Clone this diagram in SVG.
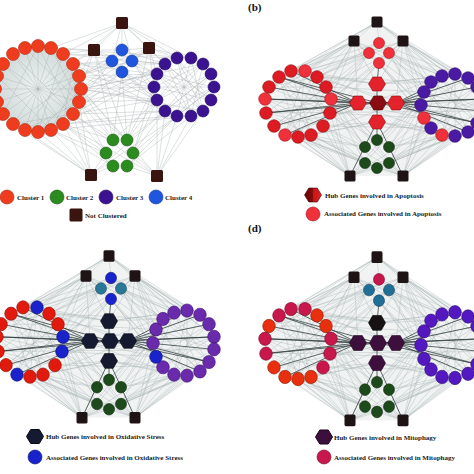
<svg xmlns="http://www.w3.org/2000/svg" width="474" height="474" viewBox="0 0 474 474">
<style>
.e{stroke:#a9b5b5;stroke-width:.5;fill:none;opacity:.8}
.ed{stroke:#2a3636;stroke-width:.8;fill:none;opacity:.9}
.hz{fill:#dfe5e5;opacity:.45}
circle,use.h{stroke-width:.6}
.a1{fill:#f03c1e;stroke:#a82810}.a2{fill:#2a8c1e;stroke:#175512}.a3{fill:#3b128f;stroke:#200860}.a4{fill:#1f56dd;stroke:#10369a}
.sqa{fill:#3a140e}.sq{fill:#1e1315}
.rd{fill:#dc1c22;stroke:#8e0e12}.rb{fill:#f0303a;stroke:#a01820}.hr{fill:#e3222b;stroke:#8e0e12}.hc{fill:#8a0c12;stroke:#4a0608}
.gr{fill:#1d4a1b;stroke:#0e2a0d}.pu{fill:#4b1aa5;stroke:#2c0c6a}
.bl{fill:#1a22cc;stroke:#0c1070}.tl{fill:#2a7898;stroke:#164a60}.nv{fill:#151a30;stroke:#05070f}.rc{fill:#e21a0e;stroke:#8e0e06}.pc{fill:#6a2aac;stroke:#3e1470}
.cr{fill:#c8174b;stroke:#7a0a2a}.td{fill:#1f6f96;stroke:#10405a}.bk{fill:#161214;stroke:#000}.dp{fill:#3d0f3d;stroke:#1e061e}.ro{fill:#e8300e;stroke:#8e1c06}.pd{fill:#5418c0;stroke:#300c78}
text{font-family:"Liberation Serif","Times New Roman",serif;font-weight:bold;fill:#222;font-size:7px}
.pl{font-size:11px;fill:#111}
</style>
<defs>
<polygon id="hx" points="-8.5,0 -4.25,-7 4.25,-7 8.5,0 4.25,7 -4.25,7"/>
<polygon id="hxl" points="-8.5,0 -4.25,-7 4.25,-7 8.5,0 4.25,7 -4.25,7"/>
<linearGradient id="gHub" x1="0" x2="1" y1="0" y2="0">
<stop offset="0" stop-color="#5a0606"/><stop offset=".5" stop-color="#8a0a0a"/><stop offset=".5" stop-color="#c41616"/><stop offset="1" stop-color="#e02020"/>
</linearGradient>
<radialGradient id="gMesh"><stop offset="0" stop-color="#eef2f2"/><stop offset="1" stop-color="#d3dbdb"/></radialGradient>
<g id="netEdges">
<path class="hz" d="M377 22L403 41L455 70L482 105L455 140L403 176L350 176L298 140L265 105L298 68L354 41Z"/>
<path class="e" d="M377 22L354 41M377 22L403 41M377 22L379 43M377 22L291 71M377 22L305 71M377 22L442 76M377 22L455 74M377 22L269 87M377 22L482 99M377 22L279 77M377 22L468 78
M354 41L279 77M354 41L291 71M354 41L305 71M354 41L317 77M354 41L326 87M354 41L369 53M354 41L379 63M354 41L358 103M354 41L265 99M354 41L431 82M354 41L442 76M354 41L269 87M354 41L331 99M354 41L377 84
M403 41L455 74M403 41L442 76M403 41L431 82M403 41L424 92M403 41L389 53M403 41L379 63M403 41L396 103M403 41L317 77M403 41L305 71M403 41L468 78M403 41L477 87M403 41L421 105M403 41L482 99M403 41L377 84
M350 176L298 137M350 176L311 135M350 176L323 126M350 176L285 135M350 176L274 126M350 176L266 113M350 176L365 163M350 176L365 147M350 176L330 113M350 176L442 135M350 176L431 128M350 176L331 99M350 176L377 168M350 176L455 136M350 176L265 99
M403 176L442 135M403 176L455 136M403 176L431 128M403 176L424 118M403 176L468 132M403 176L389 163M403 176L389 147M403 176L311 135M403 176L323 126M403 176L477 123M403 176L482 111M403 176L298 137M403 176L377 168M403 176L421 105M403 176L330 113
M369 53L326 87M369 53L317 77M369 53L331 99M369 53L305 71M369 53L330 113M369 53L269 87M369 53L424 92
M389 53L431 82M389 53L424 92M389 53L421 105M389 53L442 76M389 53L424 118M389 53L477 87M389 53L326 87
M379 63L330 113M379 63L424 118M379 63L331 99M379 63L421 105M379 63L323 126M379 63L431 128
M379 43L317 77M379 43L431 82M379 43L291 71M379 43L455 74
M365 147L331 99M365 147L330 113M365 147L323 126M365 147L311 135M365 147L298 137M365 147L326 87M365 147L421 105
M389 147L421 105M389 147L424 118M389 147L431 128M389 147L442 135M389 147L424 92M389 147L330 113M389 147L455 136
M365 163L285 135M365 163L274 126M365 163L323 126M365 163L311 135M365 163L331 99
M389 163L455 136M389 163L468 132M389 163L431 128M389 163L442 135M389 163L421 105
M377 140L326 87M377 140L431 82M377 140L317 77M377 140L442 76
M377 168L266 113M377 168L482 111M377 168L298 137M377 168L455 136
M377 84L305 71M377 84L317 77M377 84L442 76M377 84L431 82M377 84L291 71M377 84L455 74
M377 122L311 135M377 122L323 126M377 122L442 135M377 122L431 128M377 122L298 137M377 122L455 136
M331 99L421 105M326 87L424 92M330 113L424 118M317 77L431 82M323 126L431 128M266 113L482 111M265 99L421 105M269 87L424 118M279 77L442 135M285 135L442 76M311 135L468 78M305 71L468 132M291 71L477 123M274 126L477 87
M269 87L330 113M279 77L323 126M291 71L311 135M305 71L298 137M317 77L285 135M326 87L274 126M331 99L266 113M330 113L265 99M265 99L331 99M269 87L317 77M266 113L323 126M279 77L311 135M291 71L330 113M274 126L326 87M298 137L279 77M285 135L305 71M269 87L326 87M265 99L323 126M266 113L317 77M274 126L331 99M279 77L330 113
M421 105L482 99M424 92L482 111M431 82L477 123M442 76L468 132M455 74L455 136M468 78L442 135M477 87L431 128M482 99L424 118M421 105L468 78M424 118L477 87M431 128L482 99M442 135L455 74M424 92L468 132M431 82L482 111M442 76L477 123M421 105L455 136
M354 41L298 137M403 41L455 136M350 176L305 71M403 176L442 76M354 41L421 105M403 41L331 99M350 176L424 92M403 176L326 87M369 53L285 135M389 53L468 132M365 163L442 76M389 163L317 77"/>
<path class="ed" d="M358 103L269 87M358 103L265 99M358 103L266 113M358 103L274 126M358 103L279 77M358 103L291 71M358 103L285 135
M378 103L265 99M378 103L266 113M378 103L279 77
M396 103L482 99M396 103L482 111M396 103L477 87M396 103L477 123M396 103L468 78M396 103L468 132M396 103L455 74
M378 103L482 99M378 103L477 123
M377 122L350 176M377 122L403 176M377 84L379 63M358 103L396 103M377 84L377 122M377 122L377 140"/>
</g>
</defs>
<rect width="474" height="474" fill="#fff"/>

<g id="connectors">
<circle cx="38" cy="89" r="40" fill="url(#gMesh)"/>
<path class="e" d="M122 23L94 50M122 23L149 48M122 23L122 50M122 23L63 54M122 23L73 64M122 23L177 58M122 23L191 58M122 23L51 48M122 23L165 64M122 23L112 61M122 23L132 61
M94 50L63 54M94 50L73 64M94 50L79 76M94 50L112 61M94 50L122 50M94 50L51 48M94 50L81 89M94 50L113 140M94 50L157 74M94 50L127 140
M149 48L177 58M149 48L165 64M149 48L157 74M149 48L154 87M149 48L132 61M149 48L122 50M149 48L122 72M149 48L191 58M149 48L79 76M149 48L127 140M149 48L81 89
M91 175L63 124M91 175L51 130M91 175L38 132M91 175L73 114M91 175L106 153M91 175L113 166M91 175L25 130M91 175L177 116M91 175L79 102M91 175L165 111M91 175L12 124
M157 176L177 116M157 176L165 111M157 176L191 116M157 176L127 166M157 176L133 153M157 176L63 124M157 176L73 114M157 176L157 100M157 176L203 111M157 176L81 89
M112 61L73 64M112 61L79 76M112 61L81 89M112 61L79 102M112 61L157 100M132 61L157 74M132 61L154 87M132 61L165 64M132 61L157 100M132 61L79 76M122 72L79 102M122 72L73 114M122 72L157 100M122 72L165 111M122 72L113 140M122 72L127 140M122 72L81 89M122 72L154 87M122 50L79 76M122 50L165 64
M113 140L81 89M113 140L79 102M113 140L73 114M113 140L63 124M113 140L157 100M127 140L157 100M127 140L165 111M127 140L154 87M127 140L79 102M127 140L81 89M106 153L63 124M106 153L73 114M106 153L51 130M106 153L79 102M133 153L165 111M133 153L177 116M133 153L157 100M133 153L154 87M113 166L63 124M113 166L51 130M127 166L177 116M127 166L191 116
M81 89L154 87M79 76L157 74M79 102L157 100M73 64L165 64M73 114L165 111M63 54L177 58M63 124L177 116M81 89L157 74M81 89L157 100M79 76L154 87M79 102L154 87M73 64L157 74M73 114L157 100M63 54L165 64M63 124L165 111M51 48L191 58M51 130L191 116M79 76L165 111M79 102L165 64M73 64L177 116M73 114L177 58M81 89L203 64M81 89L203 111M63 54L157 100M63 124L157 74
M191 58L177 116M203 64L165 111M211 74L157 100M214 87L154 87M211 100L157 74M203 111L165 64M191 116L177 58M191 58L157 100M203 64L154 87M211 74L165 111M214 87L177 116M211 100L165 64M203 111L177 58M191 116L157 74M177 116L214 87M165 111L211 74M157 100L203 64M154 87L211 100M157 74L203 111M165 64L191 116M177 58L211 100M191 58L203 111M203 64L191 116M211 74L177 116M214 87L165 111M157 74L214 87M165 64L211 100
M38 46L38 132M51 48L25 130M63 54L13 124M73 64L3 114M79 76L-3 102M81 89L-5 89M79 102L-3 76M73 114L3 64M63 124L13 54M51 130L25 48M38 46L73 114M51 48L79 102M63 54L81 89M73 64L63 124M79 76L51 130M81 89L38 132M79 102L25 130M73 114L13 124M38 46L3 114M25 48L79 102M13 54L73 114M3 64L63 124M-3 76L51 130M38 132L63 54M25 130L73 64M13 124L79 76"/>
<use href="#netEdges"/>
<use href="#netEdges" transform="translate(110 341) scale(1 1.05) translate(-378 -103)"/>
<use href="#netEdges" transform="translate(378 343) scale(1 1.06) translate(-378 -103)"/>
</g>

<g id="panel-a">
<g id="a-c1-0"><circle class="a1" cx="38" cy="46" r="6.5"/></g>
<g id="a-c1-1"><circle class="a1" cx="51" cy="48" r="6.5"/></g>
<g id="a-c1-2"><circle class="a1" cx="63" cy="54" r="6.5"/></g>
<g id="a-c1-3"><circle class="a1" cx="73" cy="64" r="6.5"/></g>
<g id="a-c1-4"><circle class="a1" cx="79" cy="76" r="6.5"/></g>
<g id="a-c1-5"><circle class="a1" cx="81" cy="89" r="6.5"/></g>
<g id="a-c1-6"><circle class="a1" cx="79" cy="102" r="6.5"/></g>
<g id="a-c1-7"><circle class="a1" cx="73" cy="114" r="6.5"/></g>
<g id="a-c1-8"><circle class="a1" cx="63" cy="124" r="6.5"/></g>
<g id="a-c1-9"><circle class="a1" cx="51" cy="130" r="6.5"/></g>
<g id="a-c1-10"><circle class="a1" cx="38" cy="132" r="6.5"/></g>
<g id="a-c1-11"><circle class="a1" cx="25" cy="130" r="6.5"/></g>
<g id="a-c1-12"><circle class="a1" cx="13" cy="124" r="6.5"/></g>
<g id="a-c1-13"><circle class="a1" cx="3" cy="114" r="6.5"/></g>
<g id="a-c1-14"><circle class="a1" cx="-3" cy="102" r="6.5"/></g>
<g id="a-c1-15"><circle class="a1" cx="-5" cy="89" r="6.5"/></g>
<g id="a-c1-16"><circle class="a1" cx="-3" cy="76" r="6.5"/></g>
<g id="a-c1-17"><circle class="a1" cx="3" cy="64" r="6.5"/></g>
<g id="a-c1-18"><circle class="a1" cx="13" cy="54" r="6.5"/></g>
<g id="a-c1-19"><circle class="a1" cx="25" cy="48" r="6.5"/></g>
<g id="a-c3-0"><circle class="a3" cx="191" cy="58" r="6"/></g>
<g id="a-c3-1"><circle class="a3" cx="203" cy="64" r="6"/></g>
<g id="a-c3-2"><circle class="a3" cx="211" cy="74" r="6"/></g>
<g id="a-c3-3"><circle class="a3" cx="214" cy="87" r="6"/></g>
<g id="a-c3-4"><circle class="a3" cx="211" cy="100" r="6"/></g>
<g id="a-c3-5"><circle class="a3" cx="203" cy="111" r="6"/></g>
<g id="a-c3-6"><circle class="a3" cx="191" cy="116" r="6"/></g>
<g id="a-c3-7"><circle class="a3" cx="177" cy="116" r="6"/></g>
<g id="a-c3-8"><circle class="a3" cx="165" cy="111" r="6"/></g>
<g id="a-c3-9"><circle class="a3" cx="157" cy="100" r="6"/></g>
<g id="a-c3-10"><circle class="a3" cx="154" cy="87" r="6"/></g>
<g id="a-c3-11"><circle class="a3" cx="157" cy="74" r="6"/></g>
<g id="a-c3-12"><circle class="a3" cx="165" cy="64" r="6"/></g>
<g id="a-c3-13"><circle class="a3" cx="177" cy="58" r="6"/></g>
<g id="a-c4-0"><circle class="a4" cx="122" cy="50" r="6"/></g>
<g id="a-c4-1"><circle class="a4" cx="112" cy="61" r="6"/></g>
<g id="a-c4-2"><circle class="a4" cx="132" cy="61" r="6"/></g>
<g id="a-c4-3"><circle class="a4" cx="122" cy="72" r="6"/></g>
<g id="a-c2-0"><circle class="a2" cx="113" cy="140" r="6"/></g>
<g id="a-c2-1"><circle class="a2" cx="127" cy="140" r="6"/></g>
<g id="a-c2-2"><circle class="a2" cx="133" cy="153" r="6"/></g>
<g id="a-c2-3"><circle class="a2" cx="127" cy="166" r="6"/></g>
<g id="a-c2-4"><circle class="a2" cx="113" cy="166" r="6"/></g>
<g id="a-c2-5"><circle class="a2" cx="106" cy="153" r="6"/></g>
<g id="a-sq-0"><rect class="sqa" x="116" y="17" width="12" height="12" rx="1.5"/></g>
<g id="a-sq-1"><rect class="sqa" x="88" y="44" width="12" height="12" rx="1.5"/></g>
<g id="a-sq-2"><rect class="sqa" x="143" y="42" width="12" height="12" rx="1.5"/></g>
<g id="a-sq-3"><rect class="sqa" x="85" y="169" width="12" height="12" rx="1.5"/></g>
<g id="a-sq-4"><rect class="sqa" x="151" y="170" width="12" height="12" rx="1.5"/></g>
<g id="a-legend">
<circle class="a1" cx="7" cy="197" r="7"/><text x="17" y="200">Cluster 1</text>
<circle class="a2" cx="57" cy="197" r="7"/><text x="66" y="200">Cluster 2</text>
<circle class="a3" cx="106" cy="197" r="7"/><text x="116" y="200">Cluster 3</text>
<circle class="a4" cx="156" cy="197" r="7"/><text x="165" y="200">Cluster 4</text>
<rect class="sqa" x="69.5" y="208.5" width="13" height="13" rx="1.5"/><text x="85" y="218">Not Clustered</text>
</g>
</g>

<g id="panel-b">
<g id="b-sq-0"><rect class="sq" x="371.5" y="16.5" width="11" height="11" rx="1.5"/></g>
<g id="b-sq-1"><rect class="sq" x="348.5" y="35.5" width="11" height="11" rx="1.5"/></g>
<g id="b-sq-2"><rect class="sq" x="397.5" y="35.5" width="11" height="11" rx="1.5"/></g>
<g id="b-sq-3"><rect class="sq" x="344.5" y="170.5" width="11" height="11" rx="1.5"/></g>
<g id="b-sq-4"><rect class="sq" x="397.5" y="170.5" width="11" height="11" rx="1.5"/></g>
<g id="b-d-0"><circle class="rb" cx="379" cy="43" r="5.5"/></g>
<g id="b-d-1"><circle class="rb" cx="369" cy="53" r="5.5"/></g>
<g id="b-d-2"><circle class="rb" cx="389" cy="53" r="5.5"/></g>
<g id="b-d-3"><circle class="rb" cx="379" cy="63" r="5.5"/></g>
<g id="b-h-t"><use class="hr h" href="#hx" x="377" y="84"/></g>
<g id="b-h-l"><use class="hr h" href="#hx" x="358" y="103"/></g>
<g id="b-h-r"><use class="hr h" href="#hx" x="396" y="103"/></g>
<g id="b-h-b"><use class="hr h" href="#hx" x="377" y="122"/></g>
<g id="b-h-c"><use class="hc h" href="#hx" x="378" y="103"/></g>
<g id="b-g-0"><circle class="gr" cx="377" cy="140" r="5.5"/></g>
<g id="b-g-1"><circle class="gr" cx="365" cy="147" r="5.5"/></g>
<g id="b-g-2"><circle class="gr" cx="389" cy="147" r="5.5"/></g>
<g id="b-g-3"><circle class="gr" cx="365" cy="163" r="5.5"/></g>
<g id="b-g-4"><circle class="gr" cx="389" cy="163" r="5.5"/></g>
<g id="b-g-5"><circle class="gr" cx="377" cy="168" r="5.5"/></g>
<g id="b-l-0"><circle class="rd" cx="269" cy="87" r="6.3"/></g>
<g id="b-l-1"><circle class="rd" cx="279" cy="77" r="6.3"/></g>
<g id="b-l-2"><circle class="rd" cx="291" cy="71" r="6.3"/></g>
<g id="b-l-3"><circle class="rb" cx="305" cy="71" r="6.3"/></g>
<g id="b-l-4"><circle class="rd" cx="317" cy="77" r="6.3"/></g>
<g id="b-l-5"><circle class="rd" cx="326" cy="87" r="6.3"/></g>
<g id="b-l-6"><circle class="rb" cx="331" cy="99" r="6.3"/></g>
<g id="b-l-7"><circle class="rd" cx="330" cy="113" r="6.3"/></g>
<g id="b-l-8"><circle class="rd" cx="323" cy="126" r="6.3"/></g>
<g id="b-l-9"><circle class="rd" cx="311" cy="135" r="6.3"/></g>
<g id="b-l-10"><circle class="rd" cx="298" cy="137" r="6.3"/></g>
<g id="b-l-11"><circle class="rb" cx="285" cy="135" r="6.3"/></g>
<g id="b-l-12"><circle class="rd" cx="274" cy="126" r="6.3"/></g>
<g id="b-l-13"><circle class="rd" cx="266" cy="113" r="6.3"/></g>
<g id="b-l-14"><circle class="rb" cx="265" cy="99" r="6.3"/></g>
<g id="b-r-0"><circle class="pu" cx="421" cy="105" r="6.3"/></g>
<g id="b-r-1"><circle class="pu" cx="424" cy="92" r="6.3"/></g>
<g id="b-r-2"><circle class="pu" cx="431" cy="82" r="6.3"/></g>
<g id="b-r-3"><circle class="pu" cx="442" cy="76" r="6.3"/></g>
<g id="b-r-4"><circle class="pu" cx="455" cy="74" r="6.3"/></g>
<g id="b-r-5"><circle class="pu" cx="468" cy="78" r="6.3"/></g>
<g id="b-r-6"><circle class="pu" cx="477" cy="87" r="6.3"/></g>
<g id="b-r-7"><circle class="pu" cx="482" cy="99" r="6.3"/></g>
<g id="b-r-8"><circle class="pu" cx="482" cy="111" r="6.3"/></g>
<g id="b-r-9"><circle class="pu" cx="477" cy="123" r="6.3"/></g>
<g id="b-r-10"><circle class="pu" cx="468" cy="132" r="6.3"/></g>
<g id="b-r-11"><circle class="pu" cx="455" cy="136" r="6.3"/></g>
<g id="b-r-12"><circle class="rb" cx="442" cy="135" r="6.3"/></g>
<g id="b-r-13"><circle class="pu" cx="431" cy="128" r="6.3"/></g>
<g id="b-r-14"><circle class="rb" cx="424" cy="118" r="6.3"/></g>
</g>
<g id="b-legend">
<text class="pl" x="248" y="11">(b)</text>
<use href="#hxl" x="313" y="195" fill="url(#gHub)" stroke="#4a0606" stroke-width=".6"/>
<text x="325" y="197.5">Hub Genes involved in Apoptosis</text>
<circle class="rb" cx="313" cy="214" r="7"/>
<text x="324" y="216">Associated Genes involved in Apoptosis</text>
<text class="pl" x="248" y="232">(d)</text>
</g>

<g id="panel-c" transform="translate(110 341) scale(1 1.05) translate(-378 -103)">
<g id="c-sq-0"><rect class="sq" x="371.5" y="16.5" width="11" height="11" rx="1.5"/></g>
<g id="c-sq-1"><rect class="sq" x="348.5" y="35.5" width="11" height="11" rx="1.5"/></g>
<g id="c-sq-2"><rect class="sq" x="397.5" y="35.5" width="11" height="11" rx="1.5"/></g>
<g id="c-sq-3"><rect class="sq" x="344.5" y="170.5" width="11" height="11" rx="1.5"/></g>
<g id="c-sq-4"><rect class="sq" x="397.5" y="170.5" width="11" height="11" rx="1.5"/></g>
<g id="c-d-0"><circle class="bl" cx="379" cy="43" r="5.5"/></g>
<g id="c-d-1"><circle class="tl" cx="369" cy="53" r="5.5"/></g>
<g id="c-d-2"><circle class="tl" cx="389" cy="53" r="5.5"/></g>
<g id="c-d-3"><circle class="bl" cx="379" cy="63" r="5.5"/></g>
<g id="c-h-t"><use class="nv h" href="#hx" x="377" y="84"/></g>
<g id="c-h-l"><use class="nv h" href="#hx" x="358" y="103"/></g>
<g id="c-h-r"><use class="nv h" href="#hx" x="396" y="103"/></g>
<g id="c-h-b"><use class="nv h" href="#hx" x="377" y="122"/></g>
<g id="c-h-c"><use class="nv h" href="#hx" x="378" y="103"/></g>
<g id="c-g-0"><circle class="gr" cx="377" cy="140" r="5.5"/></g>
<g id="c-g-1"><circle class="gr" cx="365" cy="147" r="5.5"/></g>
<g id="c-g-2"><circle class="gr" cx="389" cy="147" r="5.5"/></g>
<g id="c-g-3"><circle class="gr" cx="365" cy="163" r="5.5"/></g>
<g id="c-g-4"><circle class="gr" cx="389" cy="163" r="5.5"/></g>
<g id="c-g-5"><circle class="gr" cx="377" cy="168" r="5.5"/></g>
<g id="c-l-0"><circle class="rc" cx="269" cy="87" r="6.3"/></g>
<g id="c-l-1"><circle class="rc" cx="279" cy="77" r="6.3"/></g>
<g id="c-l-2"><circle class="rc" cx="291" cy="71" r="6.3"/></g>
<g id="c-l-3"><circle class="bl" cx="305" cy="71" r="6.3"/></g>
<g id="c-l-4"><circle class="rc" cx="317" cy="77" r="6.3"/></g>
<g id="c-l-5"><circle class="rc" cx="326" cy="87" r="6.3"/></g>
<g id="c-l-6"><circle class="bl" cx="331" cy="99" r="6.3"/></g>
<g id="c-l-7"><circle class="bl" cx="330" cy="113" r="6.3"/></g>
<g id="c-l-8"><circle class="rc" cx="323" cy="126" r="6.3"/></g>
<g id="c-l-9"><circle class="rc" cx="311" cy="135" r="6.3"/></g>
<g id="c-l-10"><circle class="rc" cx="298" cy="137" r="6.3"/></g>
<g id="c-l-11"><circle class="bl" cx="285" cy="135" r="6.3"/></g>
<g id="c-l-12"><circle class="rc" cx="274" cy="126" r="6.3"/></g>
<g id="c-l-13"><circle class="rc" cx="266" cy="113" r="6.3"/></g>
<g id="c-l-14"><circle class="rc" cx="265" cy="99" r="6.3"/></g>
<g id="c-r-0"><circle class="pc" cx="421" cy="105" r="6.3"/></g>
<g id="c-r-1"><circle class="pc" cx="424" cy="92" r="6.3"/></g>
<g id="c-r-2"><circle class="pc" cx="431" cy="82" r="6.3"/></g>
<g id="c-r-3"><circle class="pc" cx="442" cy="76" r="6.3"/></g>
<g id="c-r-4"><circle class="pc" cx="455" cy="74" r="6.3"/></g>
<g id="c-r-5"><circle class="pc" cx="468" cy="78" r="6.3"/></g>
<g id="c-r-6"><circle class="pc" cx="477" cy="87" r="6.3"/></g>
<g id="c-r-7"><circle class="pc" cx="482" cy="99" r="6.3"/></g>
<g id="c-r-8"><circle class="pc" cx="482" cy="111" r="6.3"/></g>
<g id="c-r-9"><circle class="pc" cx="477" cy="123" r="6.3"/></g>
<g id="c-r-10"><circle class="pc" cx="468" cy="132" r="6.3"/></g>
<g id="c-r-11"><circle class="pc" cx="455" cy="136" r="6.3"/></g>
<g id="c-r-12"><circle class="pc" cx="442" cy="135" r="6.3"/></g>
<g id="c-r-13"><circle class="pc" cx="431" cy="128" r="6.3"/></g>
<g id="c-r-14"><circle class="bl" cx="424" cy="118" r="6.3"/></g>
</g>
<g id="c-legend">
<use class="nv" href="#hxl" x="35" y="436.5"/>
<text x="46" y="439">Hub Genes involved in Oxidative Stress</text>
<circle class="bl" cx="35" cy="457" r="7"/>
<text x="46" y="459.5">Associated Genes involved in Oxidative Stress</text>
</g>

<g id="panel-d" transform="translate(378 343) scale(1 1.06) translate(-378 -103)">
<g id="d-sq-0"><rect class="sq" x="371.5" y="16.5" width="11" height="11" rx="1.5"/></g>
<g id="d-sq-1"><rect class="sq" x="348.5" y="35.5" width="11" height="11" rx="1.5"/></g>
<g id="d-sq-2"><rect class="sq" x="397.5" y="35.5" width="11" height="11" rx="1.5"/></g>
<g id="d-sq-3"><rect class="sq" x="344.5" y="170.5" width="11" height="11" rx="1.5"/></g>
<g id="d-sq-4"><rect class="sq" x="397.5" y="170.5" width="11" height="11" rx="1.5"/></g>
<g id="d-d-0"><circle class="cr" cx="379" cy="43" r="5.5"/></g>
<g id="d-d-1"><circle class="td" cx="369" cy="53" r="5.5"/></g>
<g id="d-d-2"><circle class="td" cx="389" cy="53" r="5.5"/></g>
<g id="d-d-3"><circle class="td" cx="379" cy="63" r="5.5"/></g>
<g id="d-h-t"><use class="bk h" href="#hx" x="377" y="84"/></g>
<g id="d-h-l"><use class="dp h" href="#hx" x="358" y="103"/></g>
<g id="d-h-r"><use class="dp h" href="#hx" x="396" y="103"/></g>
<g id="d-h-b"><use class="dp h" href="#hx" x="377" y="122"/></g>
<g id="d-h-c"><use class="dp h" href="#hx" x="378" y="103"/></g>
<g id="d-g-0"><circle class="gr" cx="377" cy="140" r="5.5"/></g>
<g id="d-g-1"><circle class="gr" cx="365" cy="147" r="5.5"/></g>
<g id="d-g-2"><circle class="gr" cx="389" cy="147" r="5.5"/></g>
<g id="d-g-3"><circle class="gr" cx="365" cy="163" r="5.5"/></g>
<g id="d-g-4"><circle class="gr" cx="389" cy="163" r="5.5"/></g>
<g id="d-g-5"><circle class="gr" cx="377" cy="168" r="5.5"/></g>
<g id="d-l-0"><circle class="ro" cx="269" cy="87" r="6.3"/></g>
<g id="d-l-1"><circle class="cr" cx="279" cy="77" r="6.3"/></g>
<g id="d-l-2"><circle class="cr" cx="291" cy="71" r="6.3"/></g>
<g id="d-l-3"><circle class="cr" cx="305" cy="71" r="6.3"/></g>
<g id="d-l-4"><circle class="ro" cx="317" cy="77" r="6.3"/></g>
<g id="d-l-5"><circle class="ro" cx="326" cy="87" r="6.3"/></g>
<g id="d-l-6"><circle class="cr" cx="331" cy="99" r="6.3"/></g>
<g id="d-l-7"><circle class="cr" cx="330" cy="113" r="6.3"/></g>
<g id="d-l-8"><circle class="cr" cx="323" cy="126" r="6.3"/></g>
<g id="d-l-9"><circle class="ro" cx="311" cy="135" r="6.3"/></g>
<g id="d-l-10"><circle class="ro" cx="298" cy="137" r="6.3"/></g>
<g id="d-l-11"><circle class="ro" cx="285" cy="135" r="6.3"/></g>
<g id="d-l-12"><circle class="ro" cx="274" cy="126" r="6.3"/></g>
<g id="d-l-13"><circle class="cr" cx="266" cy="113" r="6.3"/></g>
<g id="d-l-14"><circle class="cr" cx="265" cy="99" r="6.3"/></g>
<g id="d-r-0"><circle class="pd" cx="421" cy="105" r="6.3"/></g>
<g id="d-r-1"><circle class="pd" cx="424" cy="92" r="6.3"/></g>
<g id="d-r-2"><circle class="pd" cx="431" cy="82" r="6.3"/></g>
<g id="d-r-3"><circle class="pd" cx="442" cy="76" r="6.3"/></g>
<g id="d-r-4"><circle class="pd" cx="455" cy="74" r="6.3"/></g>
<g id="d-r-5"><circle class="pd" cx="468" cy="78" r="6.3"/></g>
<g id="d-r-6"><circle class="pd" cx="477" cy="87" r="6.3"/></g>
<g id="d-r-7"><circle class="pd" cx="482" cy="99" r="6.3"/></g>
<g id="d-r-8"><circle class="pd" cx="482" cy="111" r="6.3"/></g>
<g id="d-r-9"><circle class="pd" cx="477" cy="123" r="6.3"/></g>
<g id="d-r-10"><circle class="pd" cx="468" cy="132" r="6.3"/></g>
<g id="d-r-11"><circle class="pd" cx="455" cy="136" r="6.3"/></g>
<g id="d-r-12"><circle class="pd" cx="442" cy="135" r="6.3"/></g>
<g id="d-r-13"><circle class="pd" cx="431" cy="128" r="6.3"/></g>
<g id="d-r-14"><circle class="pd" cx="424" cy="118" r="6.3"/></g>
</g>
<g id="d-legend">
<use class="dp" href="#hxl" x="324" y="437"/>
<text x="334" y="439.5">Hub Genes involved in Mitophagy</text>
<circle class="cr" cx="324" cy="457" r="7"/>
<text x="334" y="459.5">Associated Genes involved in Mitophagy</text>
</g>
</svg>
